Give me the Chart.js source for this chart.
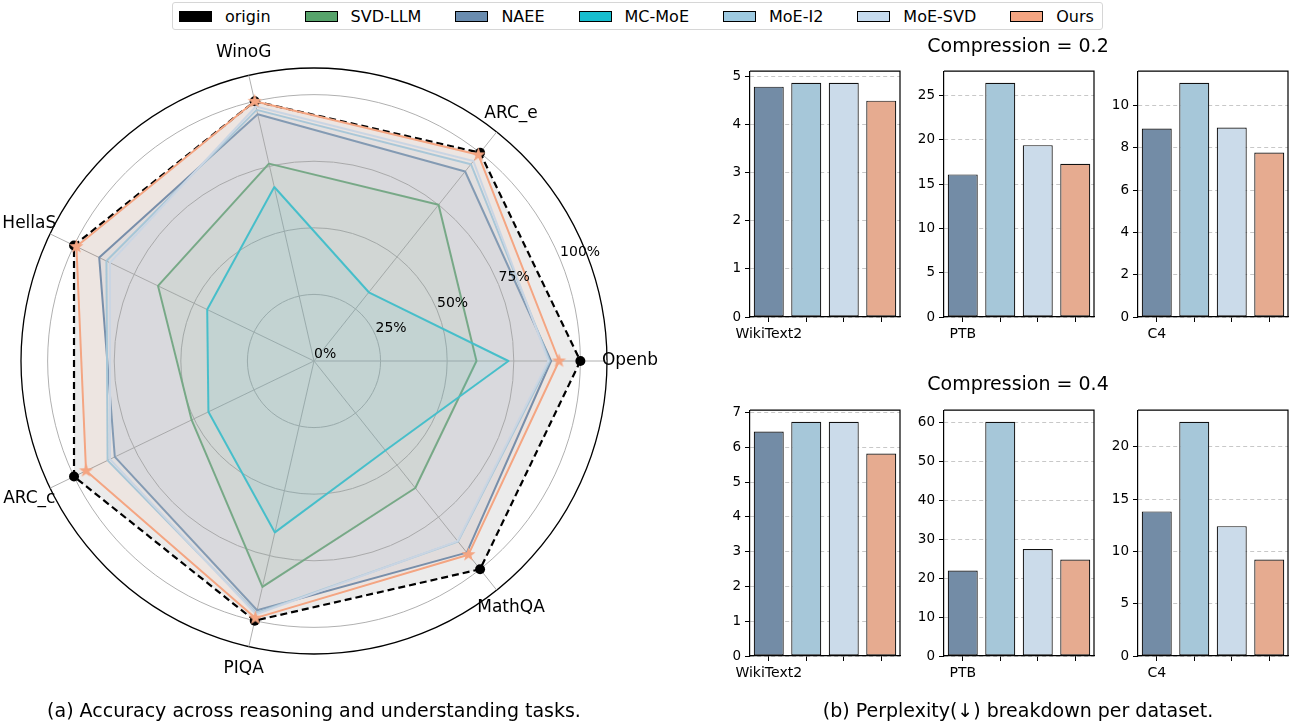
<!DOCTYPE html>
<html>
<head>
<meta charset="utf-8">
<script src="https://cdn.jsdelivr.net/npm/chart.js@4.4.1/dist/chart.umd.min.js"></script>
<style>
  body { margin: 0; background: #fff; font-family: 'DejaVu Sans', sans-serif; }
  #fig { position: relative; width: 1291px; height: 721px; overflow: hidden; background: #fff; }
  #fig canvas { position: absolute; }
  #legend {
    position: absolute; left: 172px; top: 2px; height: 28px; box-sizing: border-box;
    border: 1px solid #d6d6d6; border-radius: 3px; background: #fff;
    display: flex; align-items: center; padding: 0 8px 0 6px; font-size: 16px; z-index: 2;
  }
  .item { display: flex; align-items: center; margin-right: 34px; white-space: nowrap; }
  .item:last-child { margin-right: 0; }
  .patch { width: 33px; height: 11px; border: 1px solid #000; box-sizing: border-box; margin-right: 13px; }
  .label { position: absolute; font-size: 19px; transform: translate(-50%, -50%); white-space: nowrap; color: #000; }
</style>
</head>
<body>
<div id="fig">
  <canvas id="radar" width="680" height="721" style="left:0;top:0"></canvas>
  <canvas id="b1"></canvas><canvas id="b2"></canvas><canvas id="b3"></canvas>
  <canvas id="b4"></canvas><canvas id="b5"></canvas><canvas id="b6"></canvas>
  <div id="legend"></div>
  <div class="label" style="left:1018px;top:45px">Compression = 0.2</div>
  <div class="label" style="left:1018px;top:383px">Compression = 0.4</div>
  <div class="label" style="left:314px;top:710px">(a) Accuracy across reasoning and understanding tasks.</div>
  <div class="label" style="left:1018px;top:710px">(b) Perplexity(↓) breakdown per dataset.</div>
</div>
<script>
// radar: accuracy relative to the original model (%)
const radarAxes = ['Openb', 'ARC_e', 'WinoG', 'HellaS', 'ARC_c', 'PIQA', 'MathQA'];
const radarTicks = [0, 25, 50, 75, 100];
const originAcc = [100, 100, 100, 100, 100, 100, 100];
const svdLlmAcc = [61, 75, 76, 65, 51, 87, 61];
const naeeAcc = [89, 91, 95, 89.5, 83, 96, 92];
const mcMoeAcc = [73, 33, 67, 44.5, 44, 66, 43];
const moeI2Acc = [88.5, 94.5, 96.7, 86.5, 86, 97, 86.7];
const moeSvdAcc = [88, 96, 98, 85, 85, 97.5, 86.5];
const oursAcc = [92, 99, 100, 99, 95, 99, 93];

const methods = ['origin', 'SVD-LLM', 'NAEE', 'MC-MoE', 'MoE-I2', 'MoE-SVD', 'Ours'];
const methodColors = ['#000000', '#57a36b', '#6a8caf', '#17becf', '#9ecae1', '#c6dbef', '#f4a582'];

// perplexity bars
const pplMethods = ['NAEE', 'MoE-I2', 'MoE-SVD', 'Ours'];
const pplDatasets = ['WikiText2', 'PTB', 'C4'];
const wikiPpl02 = [4.78, 4.86, 4.86, 4.49];
const ptbPpl02 = [16.1, 26.44, 19.4, 17.3];
const c4Ppl02 = [8.91, 11.07, 8.96, 7.77];
const wikiPpl04 = [6.45, 6.73, 6.73, 5.82];
const ptbPpl04 = [22.0, 60.25, 27.5, 24.8];
const c4Ppl04 = [13.82, 22.38, 12.41, 9.22];
const wikiTicks02 = [0, 1, 2, 3, 4, 5];
const ptbTicks02 = [0, 5, 10, 15, 20, 25];
const c4Ticks02 = [0, 2, 4, 6, 8, 10];
const wikiTicks04 = [0, 1, 2, 3, 4, 5, 6, 7];
const ptbTicks04 = [0, 10, 20, 30, 40, 50, 60];
const c4Ticks04 = [0, 5, 10, 15, 20];

Chart.defaults.font.family = "'DejaVu Sans', sans-serif";
Chart.defaults.color = '#000';

const hexRgb = (h) => [1, 3, 5].map((i) => parseInt(h.slice(i, i + 2), 16) / 255);
const rgba = (h, a) => { const c = hexRgb(h).map((v) => Math.round(v * 255)); return `rgba(${c[0]},${c[1]},${c[2]},${a})`; };

// seaborn-style desaturation (saturation * p in HLS space)
function desat(hex, p) {
  const [r, g, b] = hexRgb(hex);
  const mx = Math.max(r, g, b), mn = Math.min(r, g, b), l = (mx + mn) / 2;
  if (mx === mn) return hex;
  const d = mx - mn;
  let s = l > 0.5 ? d / (2 - mx - mn) : d / (mx + mn);
  let h = mx === r ? (g - b) / d + (g < b ? 6 : 0) : mx === g ? (b - r) / d + 2 : (r - g) / d + 4;
  h /= 6; s *= p;
  const q = l < 0.5 ? l * (1 + s) : l + s - l * s, pp = 2 * l - q;
  const f = (t) => { t = (t + 1) % 1; return t < 1 / 6 ? pp + (q - pp) * 6 * t : t < 0.5 ? q : t < 2 / 3 ? pp + (q - pp) * (2 / 3 - t) * 6 : pp; };
  return '#' + [f(h + 1 / 3), f(h), f(h - 1 / 3)].map((v) => Math.round(v * 255).toString(16).padStart(2, '0')).join('');
}

function starImage(color, R) {
  const c = document.createElement('canvas');
  const size = Math.ceil(R * 2 + 2);
  c.width = c.height = size;
  const g = c.getContext('2d');
  g.translate(size / 2, size / 2);
  g.beginPath();
  for (let k = 0; k < 10; k++) {
    const r = k % 2 ? R * 0.4 : R;
    const a = -Math.PI / 2 + k * Math.PI / 5;
    g.lineTo(r * Math.cos(a), r * Math.sin(a));
  }
  g.closePath();
  g.fillStyle = color;
  g.fill();
  return c;
}

// legend
const legend = document.getElementById('legend');
legend.innerHTML = methods.map((m, i) =>
  `<div class="item"><span class="patch" style="background:${methodColors[i]}"></span>${m}</div>`).join('');

// ---- radar ----
// matplotlib goes counter-clockwise from 3 o'clock, Chart.js clockwise: reorder
const cw = [0, 6, 5, 4, 3, 2, 1];
const reorder = (arr) => cw.map((i) => arr[i]);
const accSeries = [originAcc, svdLlmAcc, naeeAcc, mcMoeAcc, moeI2Acc, moeSvdAcc, oursAcc];

const radarDatasets = accSeries.map((vals, i) => {
  const col = methodColors[i];
  const ds = {
    label: methods[i],
    data: reorder(vals),
    borderColor: col,
    backgroundColor: rgba(col, i === 0 ? 0.08 : 0.1),
    borderWidth: 2,
    borderJoinStyle: 'round',
    fill: true,
    pointRadius: 0,
    order: methods.length - i,
  };
  if (i === 0) {
    Object.assign(ds, { borderDash: [7, 4], borderWidth: 2.2, pointRadius: 5, pointBackgroundColor: '#000', pointBorderWidth: 0 });
  }
  if (i === methods.length - 1) {
    Object.assign(ds, { pointRadius: 6, pointStyle: starImage(col, 7.5) });
  }
  return ds;
});

const radarText = {
  id: 'radarText',
  afterDraw(chart) {
    const s = chart.scales.r, ctx = chart.ctx;
    ctx.save();
    ctx.fillStyle = '#000';
    ctx.font = "17px 'DejaVu Sans'";
    ctx.textAlign = 'center';
    ctx.textBaseline = 'middle';
    chart.data.labels.forEach((lab, i) => {
      const p = s.getPointPosition(i, s.drawingArea + 23);
      ctx.fillText(lab, p.x, p.y);
    });
    ctx.font = "14px 'DejaVu Sans'";
    ctx.textAlign = 'left';
    ctx.textBaseline = 'bottom';
    const a = -22.5 * Math.PI / 180;
    radarTicks.forEach((v) => {
      const d = s.getDistanceFromCenterForValue(v);
      ctx.fillText(v + '%', s.xCenter + d * Math.cos(a), s.yCenter + d * Math.sin(a));
    });
    ctx.restore();
  },
};

new Chart(document.getElementById('radar'), {
  type: 'radar',
  data: { labels: reorder(radarAxes), datasets: radarDatasets },
  options: {
    responsive: false,
    animation: false,
    layout: { padding: { left: 21, top: 68, right: 73, bottom: 67 } },
    plugins: { legend: { display: false }, tooltip: { enabled: false } },
    elements: { line: { tension: 0 } },
    scales: {
      r: {
        min: 0,
        max: 110,
        startAngle: 90,
        afterBuildTicks: (s) => { s.ticks = radarTicks.concat([110]).map((v) => ({ value: v })); },
        ticks: { display: false },
        pointLabels: { display: false },
        grid: {
          circular: true,
          color: (c) => (c.tick && c.tick.value === 110 ? '#000' : '#b0b0b0'),
          lineWidth: (c) => (c.tick && c.tick.value === 110 ? 1.3 : 1),
        },
        angleLines: { color: '#b0b0b0', lineWidth: 1 },
      },
    },
  },
  plugins: [radarText],
});

// ---- bars ----
const barColors = pplMethods.map((m) => desat(methodColors[methods.indexOf(m)], 0.75));
const AX_W = 150, AX_H = 250, PAD_L = 48, PAD_T = 8, PAD_R = 6, PAD_B = 34;

const boxSpines = {
  id: 'boxSpines',
  afterDatasetsDraw(chart) {
    const a = chart.chartArea, ctx = chart.ctx;
    ctx.save();
    ctx.strokeStyle = '#000';
    ctx.lineWidth = 1.2;
    ctx.beginPath();
    ctx.moveTo(a.left, a.top);
    ctx.lineTo(a.right, a.top);
    ctx.lineTo(a.right, a.bottom);
    ctx.stroke();
    ctx.restore();
  },
};

function barChart(id, left, top, values, ticks, name) {
  const el = document.getElementById(id);
  el.style.left = (left - PAD_L) + 'px';
  el.style.top = (top - PAD_T) + 'px';
  el.width = PAD_L + AX_W + PAD_R;
  el.height = PAD_T + AX_H + PAD_B;
  new Chart(el, {
    type: 'bar',
    data: {
      labels: pplMethods,
      datasets: [{
        data: values,
        backgroundColor: barColors,
        borderColor: '#111',
        borderWidth: 1.2,
        borderSkipped: false,
        barPercentage: 0.8,
        categoryPercentage: 1.0,
      }],
    },
    options: {
      responsive: false,
      animation: false,
      layout: { padding: { top: PAD_T, right: PAD_R, left: 0, bottom: 0 } },
      plugins: { legend: { display: false }, tooltip: { enabled: false } },
      scales: {
        x: {
          offset: true,
          grid: { drawOnChartArea: false, drawTicks: true, tickLength: 5, color: '#000', offset: false },
          border: { color: '#000', width: 1.2 },
          ticks: { font: { size: 14 }, padding: 4, maxRotation: 0, autoSkip: false, callback: (v, i) => (i === 0 ? name : '') },
          afterFit: (s) => { s.height = PAD_B; },
        },
        y: {
          min: 0,
          max: Math.max(...values) * 1.05,
          afterBuildTicks: (s) => { s.ticks = ticks.map((v) => ({ value: v })); },
          grid: { color: 'rgba(176,176,176,0.7)', tickColor: '#000', tickLength: 5, lineWidth: 1 },
          border: { color: '#000', width: 1.2, dash: [4, 3] },
          ticks: { font: { size: 13.5 }, padding: 4 },
          afterFit: (s) => { s.width = PAD_L; },
        },
      },
    },
    plugins: [boxSpines],
  });
}

const colX = [750, 944, 1138];
const rowY = [67, 406];
barChart('b1', colX[0], rowY[0], wikiPpl02, wikiTicks02, pplDatasets[0]);
barChart('b2', colX[1], rowY[0], ptbPpl02, ptbTicks02, pplDatasets[1]);
barChart('b3', colX[2], rowY[0], c4Ppl02, c4Ticks02, pplDatasets[2]);
barChart('b4', colX[0], rowY[1], wikiPpl04, wikiTicks04, pplDatasets[0]);
barChart('b5', colX[1], rowY[1], ptbPpl04, ptbTicks04, pplDatasets[1]);
barChart('b6', colX[2], rowY[1], c4Ppl04, c4Ticks04, pplDatasets[2]);
</script>
</body>
</html>
